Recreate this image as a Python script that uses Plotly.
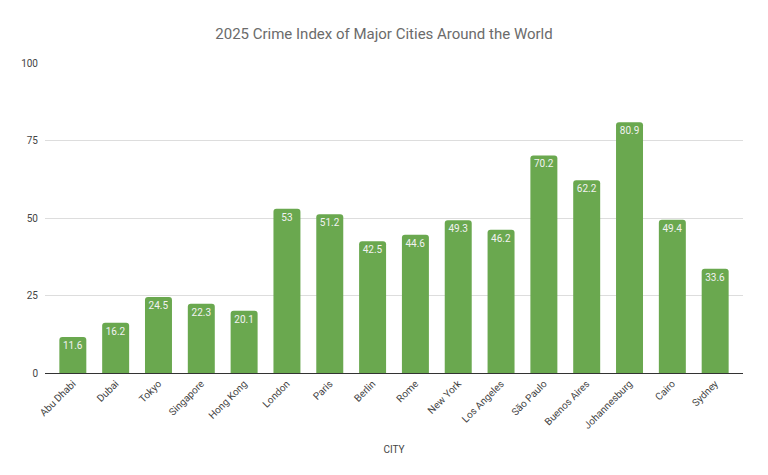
import plotly.graph_objects as go

cities = ["Abu Dhabi", "Dubai", "Tokyo", "Singapore", "Hong Kong", "London", "Paris", "Berlin",
          "Rome", "New York", "Los Angeles", "São Paulo", "Buenos Aires", "Johannesburg", "Cairo", "Sydney"]
crime_index = [11.6, 16.2, 24.5, 22.3, 20.1, 53, 51.2, 42.5, 44.6, 49.3, 46.2, 70.2, 62.2, 80.9, 49.4, 33.6]
y_ticks = [0, 25, 50, 75, 100]

fig = go.Figure(go.Bar(
    x=cities, y=crime_index,
    marker=dict(color="#6aa84f", cornerradius=3, line=dict(width=0)),
    text=[f"{v:g}" for v in crime_index],
    textposition="inside", insidetextanchor="end",
    textfont=dict(color="#f2f2f2", size=10, family="Roboto"),
    textangle=0,
))

fig.update_layout(
    width=768, height=475,
    paper_bgcolor="white", plot_bgcolor="white",
    margin=dict(l=45, r=25, t=63, b=102),
    font=dict(family="Roboto", color="#222222"),
    title=dict(text="2025 Crime Index of Major Cities Around the World", x=0.5, xanchor="center",
               y=0.93, yanchor="middle", font=dict(size=15, color="#6b6b6b")),
    bargap=0.37,
    showlegend=False,
)
fig.update_xaxes(tickangle=-45, tickfont=dict(size=10, color="#444444"), automargin=False,
                 range=[-0.65, 15.65],
                 title=dict(text="CITY", font=dict(size=10, color="#444444"), standoff=15),
                 showline=True, linecolor="#333333", linewidth=1, ticks="")
fig.update_yaxes(range=[0, 100], tickvals=y_ticks, tickfont=dict(size=10, color="#444444"),
                 automargin=False,
                 gridcolor="#dddddd", zeroline=False, ticks="", ticklabelstandoff=6)

fig.write_html("out.html")
